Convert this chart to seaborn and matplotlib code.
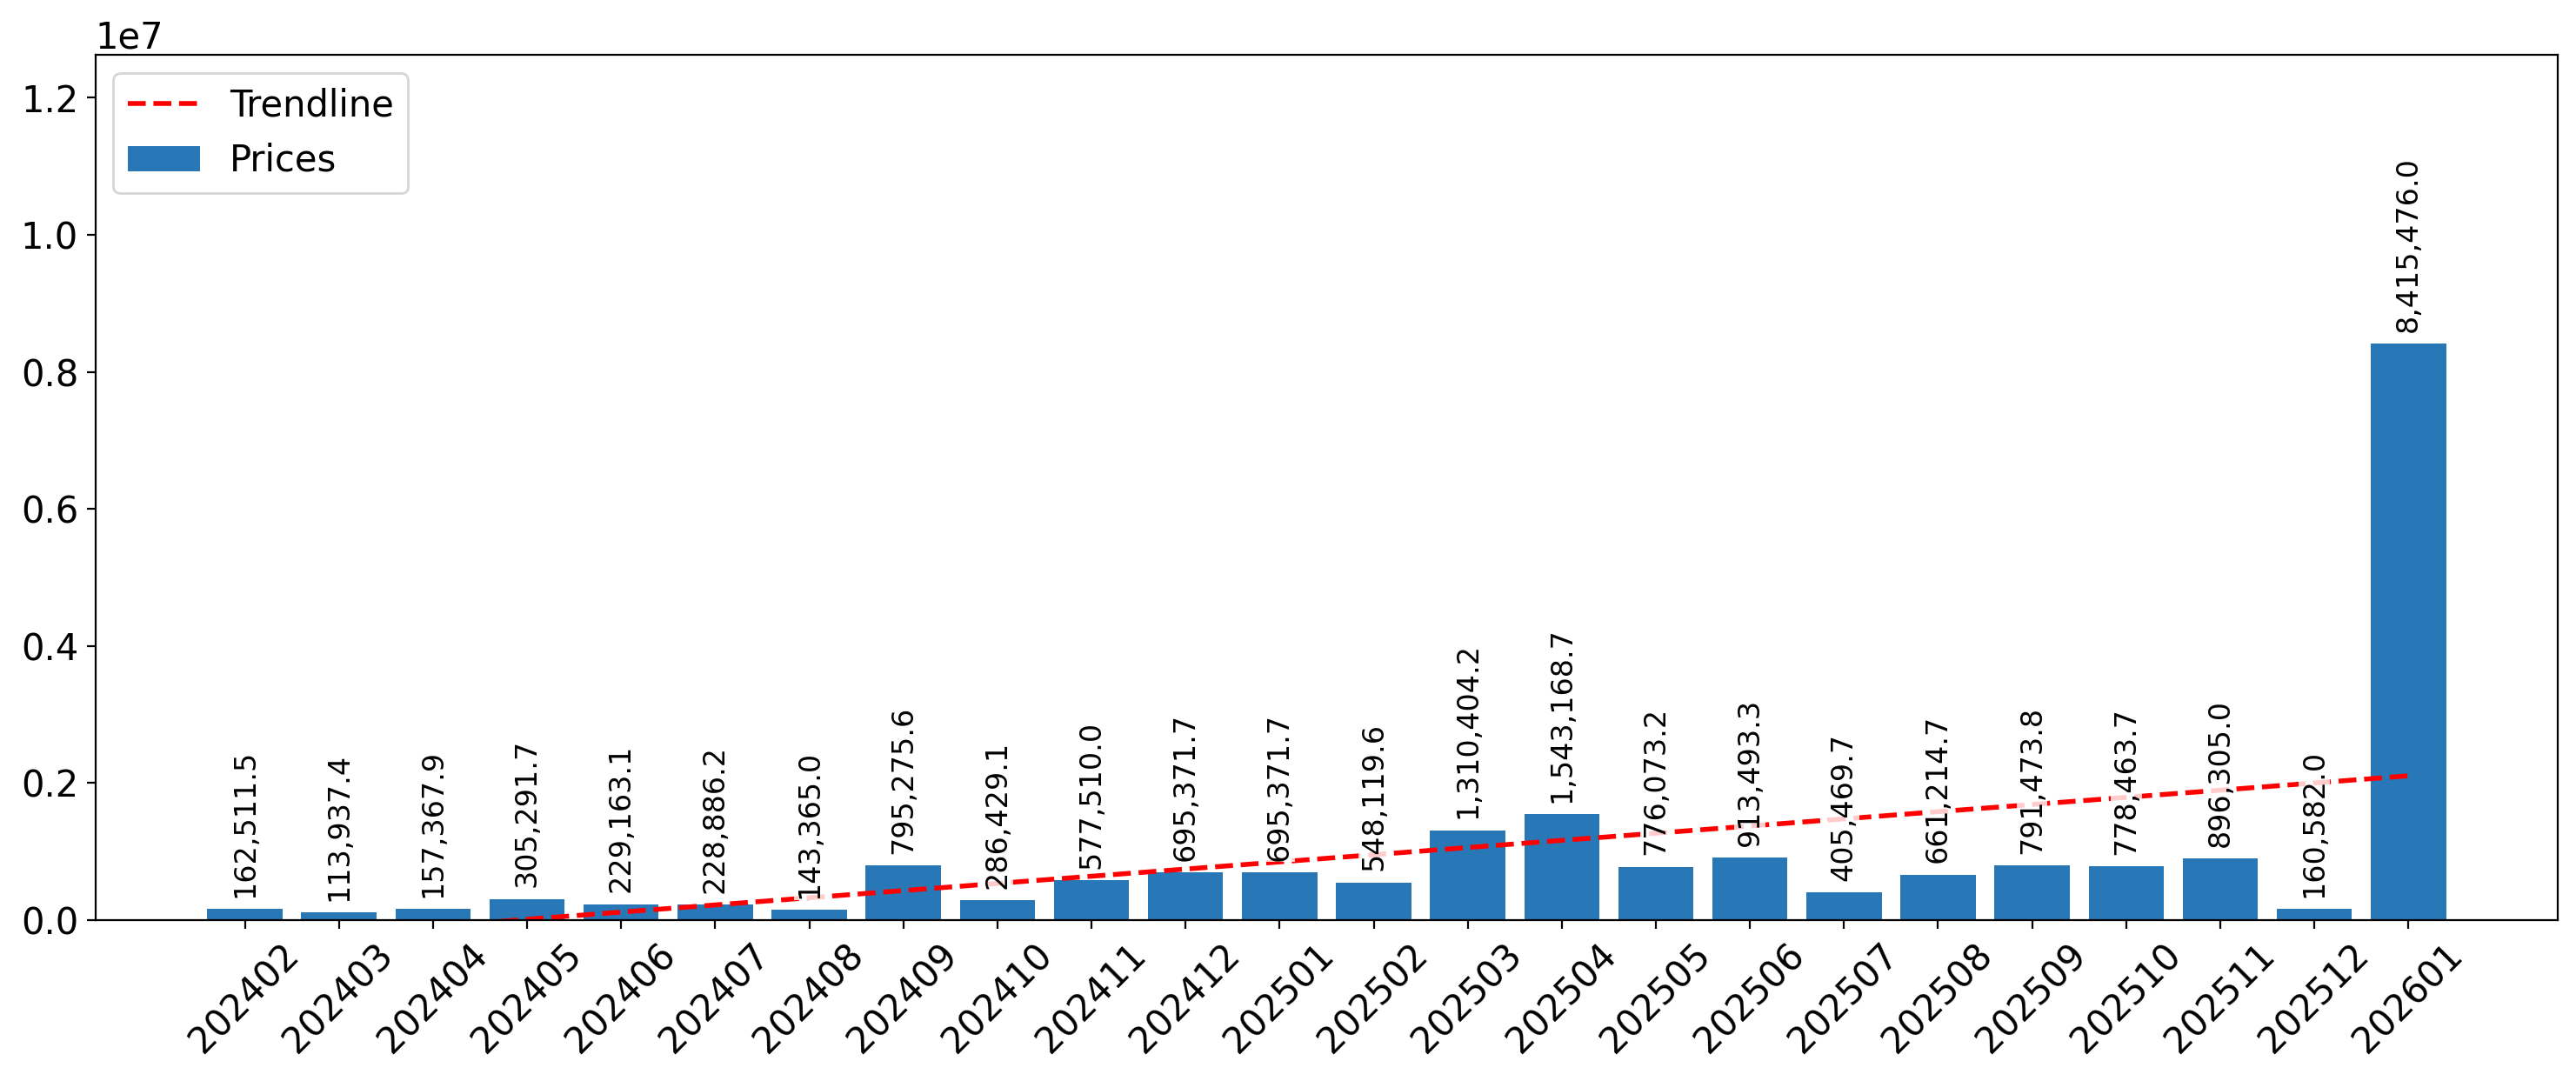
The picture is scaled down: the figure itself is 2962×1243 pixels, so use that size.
import numpy as np
import pandas as pd
import matplotlib
matplotlib.use("Agg")
import matplotlib.pyplot as plt
import seaborn as sns

months = ["202402", "202403", "202404", "202405", "202406", "202407", "202408",
          "202409", "202410", "202411", "202412", "202501", "202502", "202503",
          "202504", "202505", "202506", "202507", "202508", "202509", "202510",
          "202511", "202512", "202601"]
prices = [162511.5, 113937.4, 157367.9, 305291.7, 229163.1, 228886.2, 143365.0,
          795275.6, 286429.1, 577510.0, 695371.7, 695371.7, 548119.6, 1310404.2,
          1543168.7, 776073.2, 913493.3, 405469.7, 661214.7, 791473.8, 778463.7,
          896305.0, 160582.0, 8415476.0]

df = pd.DataFrame({"month": months, "price": prices})

fig, ax = plt.subplots(figsize=(14.81, 6.215), dpi=200)
fig.subplots_adjust(left=0.037, right=0.993, top=0.949, bottom=0.149)

sns.barplot(data=df, x="month", y="price", color="#2878b8", saturation=1,
            width=0.8, ax=ax)
bars = ax.containers[0]

xs = np.arange(len(prices))
coef = np.polyfit(xs, np.array(prices), 1)
trend = np.polyval(coef, xs)
line, = ax.plot(xs, trend, color="red", linestyle="--", linewidth=2)

pmax = max(prices)
for i, v in enumerate(prices):
    ax.text(i, v + 0.02 * pmax, f"{v:,.1f}", ha="center", va="bottom",
            rotation=90, fontsize=12,
            bbox=dict(facecolor="white", edgecolor="none", alpha=0.8, pad=0.5))

n = len(prices)
span = (n - 1 + 0.4) - (-0.4)
ax.set_xlim(-0.4 - 0.05 * span, n - 1 + 0.4 + 0.05 * span)
ax.set_ylim(0, pmax * 1.5)
ax.set_xlabel("")
ax.set_ylabel("")
ax.tick_params(axis="both", labelsize=15)
plt.setp(ax.get_xticklabels(), rotation=45)
ax.yaxis.get_offset_text().set_fontsize(15)
for s in ax.spines.values():
    s.set_visible(True)

ax.legend([line, bars], ["Trendline", "Prices"], loc="upper left", fontsize=15)

fig.savefig("out.png", dpi=200)
